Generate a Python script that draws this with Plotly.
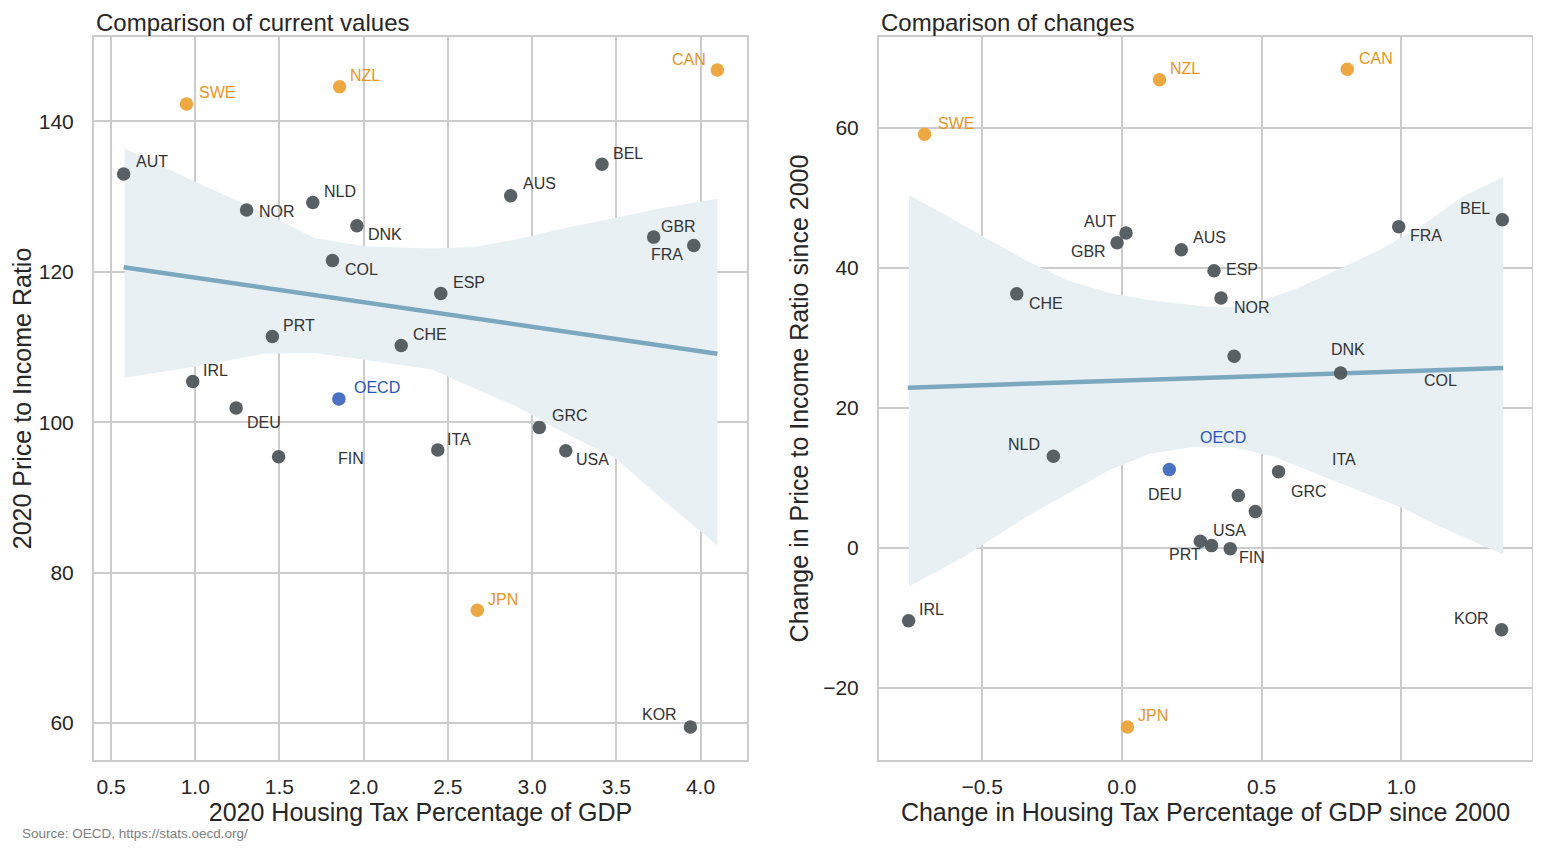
import plotly.graph_objects as go

# ---- left panel: 2020 levels
countries_2020 = ['AUT', 'SWE', 'NZL', 'CAN', 'BEL', 'AUS', 'NLD', 'NOR', 'DNK', 'COL', 'GBR', 'FRA',
                  'ESP', 'PRT', 'CHE', 'IRL', 'OECD', 'DEU', 'GRC', 'FIN', 'ITA', 'USA', 'JPN', 'KOR']
tax_2020 = [0.575, 0.948, 1.857, 4.10, 3.415, 2.873, 1.698, 1.305, 1.96, 1.815, 3.722, 3.96,
            2.458, 1.458, 2.223, 0.985, 1.853, 1.243, 3.043, 1.495, 2.44, 3.2, 2.675, 3.94]
ratio_2020 = [133.0, 142.3, 144.6, 146.8, 134.3, 130.1, 129.2, 128.2, 126.1, 121.5, 124.6, 123.5,
              117.1, 111.4, 110.2, 105.4, 103.1, 101.9, 99.3, 95.4, 96.3, 96.2, 75.0, 59.5]

# regression line + CI band
fit_x_2020 = [0.575, 4.10]
fit_y_2020 = [120.6, 109.1]
band_x_2020 = [0.58, 1.005, 1.406, 1.706, 2.006, 2.406, 2.656, 2.907, 3.157, 3.507, 3.78, 4.10]
band_hi_2020 = [136.4, 131.9, 127.9, 124.5, 123.4, 123.1, 123.3, 124.3, 125.6, 127.2, 128.5, 129.7]
band_lo_2020 = [105.9, 107.4, 109.1, 109.2, 108.3, 107.0, 104.5, 102.1, 99.0, 95.0, 89.6, 83.6]

# ---- right panel: change since 2000
countries_chg = ['SWE', 'NZL', 'CAN', 'AUT', 'GBR', 'AUS', 'ESP', 'NOR', 'CHE', 'FRA', 'BEL', 'COL',
                 'DNK', 'NLD', 'OECD', 'ITA', 'DEU', 'GRC', 'USA', 'PRT', 'FIN', 'IRL', 'KOR', 'JPN']
tax_chg = [-0.706, 0.135, 0.807, 0.015, -0.017, 0.213, 0.330, 0.355, -0.376, 0.991, 1.362, 0.402,
           0.783, -0.245, 0.170, 0.561, 0.417, 0.478, 0.281, 0.321, 0.388, -0.763, 1.359, 0.020]
ratio_chg = [59.1, 66.9, 68.4, 45.0, 43.6, 42.6, 39.6, 35.7, 36.3, 45.9, 46.9, 27.4,
             25.0, 13.1, 11.2, 10.9, 7.5, 5.2, 0.95, 0.33, -0.1, -10.4, -11.7, -25.6]

fit_x_chg = [-0.766, 1.365]
fit_y_chg = [22.9, 25.7]
band_hi_x_chg = [-0.762, -0.64, -0.492, -0.343, -0.195, -0.031, 0.102, 0.296, 0.4, 0.503, 0.622,
                 0.771, 0.919, 1.068, 1.216, 1.365]
band_hi_chg = [50.4, 47.8, 44.4, 41.1, 38.2, 36.3, 35.4, 34.5, 34.4, 35.4, 37.0, 39.7, 42.5, 45.9, 50.1, 53.0]
band_lo_x_chg = [-0.762, -0.566, -0.343, -0.195, -0.046, 0.102, 0.251, 0.4, 0.548, 0.696, 0.845,
                 0.993, 1.142, 1.365]
band_lo_chg = [-5.5, -1.3, 4.4, 7.8, 11.1, 13.5, 14.4, 14.4, 13.0, 10.6, 8.2, 5.9, 3.0, -0.95]

highlight = ['SWE', 'NZL', 'CAN', 'JPN']

# label placement (pixels from the dot: dx, dy, anchor)
offs_2020 = {
    'AUT': (10, 12, 'left'), 'SWE': (11, 11, 'left'), 'NZL': (8, 11, 'left'), 'CAN': (-9, 11, 'right'),
    'BEL': (9, 11, 'left'), 'AUS': (10, 12, 'left'), 'NLD': (9, 11, 'left'), 'NOR': (10, -1, 'left'),
    'DNK': (9, -9, 'left'), 'COL': (10, -9, 'left'), 'GBR': (5, 11, 'left'), 'FRA': (-9, -9, 'right'),
    'ESP': (10, 11, 'left'), 'PRT': (9, 11, 'left'), 'CHE': (10, 11, 'left'), 'IRL': (8, 11, 'left'),
    'OECD': (13, 11, 'left'), 'DEU': (9, -15, 'left'), 'FIN': (57, -2, 'left'), 'ITA': (7, 11, 'left'),
    'GRC': (11, 12, 'left'), 'USA': (8, -9, 'left'), 'JPN': (9, 11, 'left'), 'KOR': (-11, 12, 'right'),
}
offs_chg = {
    'SWE': (11, 11, 'left'), 'NZL': (8, 11, 'left'), 'CAN': (10, 11, 'left'), 'AUT': (-8, 11, 'right'),
    'GBR': (-9, -9, 'right'), 'AUS': (10, 12, 'left'), 'ESP': (10, 1, 'left'), 'NOR': (11, -9, 'left'),
    'CHE': (10, -10, 'left'), 'FRA': (9, -9, 'left'), 'BEL': (-10, 11, 'right'), 'COL': (188, -24, 'left'),
    'DNK': (-12, 23, 'left'), 'NLD': (-11, 12, 'right'), 'OECD': (29, 32, 'left'), 'ITA': (51, 12, 'left'),
    'DEU': (-92, 1, 'left'), 'GRC': (34, 20, 'left'), 'USA': (11, 11, 'left'), 'PRT': (-9, -9, 'right'),
    'FIN': (7, -9, 'left'), 'IRL': (8, 11, 'left'), 'KOR': (-11, 11, 'right'), 'JPN': (9, 12, 'left'),
}

FONT = 'Liberation Sans, Arial, sans-serif'
GRAY, ORANGE, BLUE = '#50575c', '#eda337', '#4169c0'
LAB_GRAY, LAB_ORANGE, LAB_BLUE = '#333333', '#e8951f', '#2a55b8'
LINE_C, BAND_C = '#7ba7bf', '#e9f0f4'


def dot_color(c):
    if c == 'OECD':
        return BLUE, LAB_BLUE
    if c in highlight:
        return ORANGE, LAB_ORANGE
    return GRAY, LAB_GRAY


fig = go.Figure()
annos = []


def add_panel(xa, ya, names, xs, ys, fx, fy, bhx, bhi, blx, blo, offs):
    # CI band
    fig.add_trace(go.Scatter(x=bhx + blx[::-1], y=bhi + blo[::-1], fill='toself', fillcolor=BAND_C,
                             line=dict(width=0), mode='lines', xaxis=xa, yaxis=ya, hoverinfo='skip'))
    # fit line
    fig.add_trace(go.Scatter(x=fx, y=fy, mode='lines', line=dict(color=LINE_C, width=4.5),
                             xaxis=xa, yaxis=ya))
    cols = [dot_color(c)[0] for c in names]
    fig.add_trace(go.Scatter(x=xs, y=ys, mode='markers', marker=dict(size=13.5, color=cols, opacity=0.95),
                             text=names, xaxis=xa, yaxis=ya))
    for c, x, y in zip(names, xs, ys):
        dx, dy, anc = offs[c]
        annos.append(dict(x=x, y=y, xref=xa, yref=ya, text=c, showarrow=False, xanchor=anc,
                          yanchor='middle', xshift=dx, yshift=dy,
                          font=dict(family=FONT, size=16, color=dot_color(c)[1])))


add_panel('x', 'y', countries_2020, tax_2020, ratio_2020, fit_x_2020, fit_y_2020,
          band_x_2020, band_hi_2020, band_x_2020, band_lo_2020, offs_2020)
add_panel('x2', 'y2', countries_chg, tax_chg, ratio_chg, fit_x_chg, fit_y_chg,
          band_hi_x_chg, band_hi_chg, band_lo_x_chg, band_lo_chg, offs_chg)

# page body has an 8px margin, so the figure is sized to fit inside the window
OFF = 8
W, H = 1541 - 2 * OFF, 852 - 2 * OFF


def px_x(p):
    return (p - OFF) / W


def px_y(p):
    return 1 - (p - OFF) / H


axis_style = dict(showgrid=True, gridcolor='#cccccc', gridwidth=1.6, zeroline=False, showline=True,
                  linecolor='#cccccc', linewidth=2, mirror=True, ticks='',
                  tickfont=dict(family=FONT, size=21, color='#262626'),
                  title_font=dict(family=FONT, size=25, color='#262626'))

fig.update_layout(
    width=W, height=H, showlegend=False, plot_bgcolor='white', paper_bgcolor='white',
    margin=dict(l=0, r=0, t=0, b=0),
    xaxis=dict(axis_style, domain=[px_x(94), px_x(747)], range=[0.399, 4.276], dtick=0.5, tick0=0,
               tickformat='.1f', ticklabelstandoff=7,
               title=dict(text='2020 Housing Tax Percentage of GDP', standoff=4)),
    yaxis=dict(axis_style, domain=[px_y(760), px_y(37)], range=[55.1, 151.2], dtick=20, tick0=0,
               ticklabelstandoff=14, title=dict(text='2020 Price to Income Ratio', standoff=2)),
    xaxis2=dict(axis_style, domain=[px_x(879), px_x(1532)], range=[-0.869, 1.468], dtick=0.5, tick0=0,
                tickformat='.1f', ticklabelstandoff=7, anchor='y2',
                title=dict(text='Change in Housing Tax Percentage of GDP since 2000', standoff=4)),
    yaxis2=dict(axis_style, domain=[px_y(760), px_y(37)], range=[-30.3, 73.0], dtick=20, tick0=0,
                ticklabelstandoff=14, anchor='x2',
                title=dict(text='Change in Price to Income Ratio since 2000', standoff=7)),
)

# panel titles sit just above the frames
for txt, px in [('Comparison of current values', 94), ('Comparison of changes', 879)]:
    annos.append(dict(x=px_x(px), y=px_y(37), xref='paper', yref='paper', xanchor='left', yanchor='bottom',
                      yshift=-1, showarrow=False, text=txt,
                      font=dict(family=FONT, size=24, color='#262626')))
annos.append(dict(x=px_x(20), y=px_y(833), xref='paper', yref='paper', xanchor='left', yanchor='middle',
                  showarrow=False, text='Source: OECD, https://stats.oecd.org/',
                  font=dict(family=FONT, size=13.5, color='#808080')))
fig.update_layout(annotations=annos)

fig.write_html("out.html")
